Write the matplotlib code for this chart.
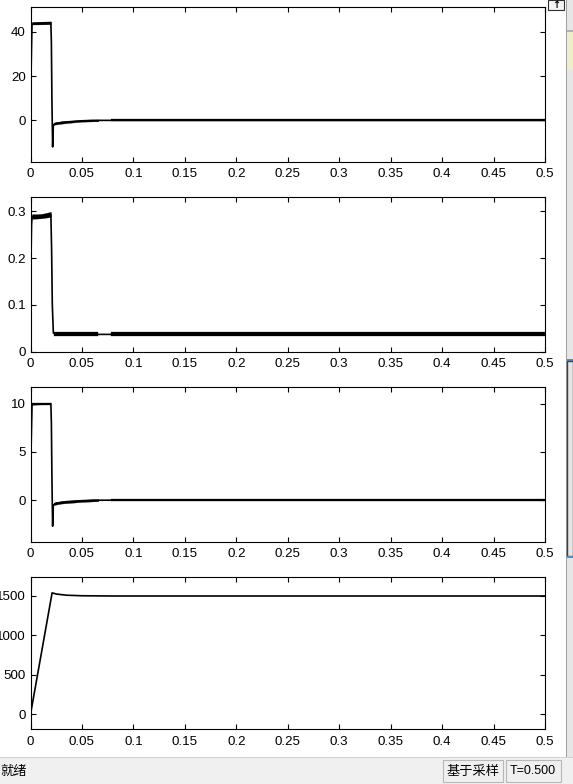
import matplotlib
matplotlib.use("Agg")
import matplotlib.pyplot as plt
from matplotlib.patches import Rectangle

plt.rcParams['font.family'] = ['Liberation Sans', 'Noto Sans CJK SC', 'DejaVu Sans']

# ---------------- data ----------------
# Panel 1
p1_t = [0, 0.0005, 0.001, 0.0015, 0.0198, 0.0203, 0.0208, 0.0215, 0.0222, 0.025, 0.035, 0.05, 0.06, 0.5]
p1_v = [0, 20, 33, 43.5, 44, 35, 10, -12, -2, -1.3, -0.7, -0.2, 0, 0]
p1_bands = [
    ([0.0015, 0.0198], [43.3, 43.4], [44.5, 44.7]),
    ([0.0225, 0.03, 0.04, 0.05, 0.066], [-2.0, -1.5, -1.0, -0.6, -0.4], [-1.0, -0.4, -0.1, 0.2, 0.4]),
    ([0.078, 0.5], [-0.4, -0.4], [0.4, 0.4]),
]
# Panel 2
p2_t = [0, 0.0005, 0.001, 0.0015, 0.0198, 0.0205, 0.0212, 0.0222, 0.025, 0.5]
p2_v = [0.035, 0.2, 0.27, 0.289, 0.293, 0.22, 0.1, 0.04, 0.037, 0.037]
p2_bands = [
    ([0.0015, 0.01, 0.0198], [0.284, 0.285, 0.288], [0.294, 0.294, 0.299]),
    ([0.0225, 0.066], [0.0335, 0.0335], [0.0415, 0.0415]),
    ([0.078, 0.5], [0.0335, 0.0335], [0.0415, 0.0415]),
]
# Panel 3
p3_t = [0, 0.0005, 0.001, 0.0015, 0.0198, 0.0203, 0.0208, 0.0215, 0.0222, 0.025, 0.035, 0.05, 0.06, 0.5]
p3_v = [0, 5, 7.5, 9.9, 10, 8, 2.5, -2.7, -0.5, -0.3, -0.15, -0.05, 0, 0]
p3_bands = [
    ([0.0015, 0.0198], [9.85, 9.85], [10.1, 10.1]),
    ([0.0225, 0.03, 0.05, 0.066], [-0.5, -0.35, -0.18, -0.1], [-0.25, -0.1, 0.04, 0.1]),
    ([0.078, 0.5], [-0.1, -0.1], [0.1, 0.1]),
]
# Panel 4
p4_t = [0, 0.021, 0.025, 0.035, 0.05, 0.08, 0.5]
p4_v = [0, 1540, 1525, 1510, 1503, 1500, 1500]

x_ticks = [0, 0.05, 0.1, 0.15, 0.2, 0.25, 0.3, 0.35, 0.4, 0.45, 0.5]
x_labels = ['0', '0.05', '0.1', '0.15', '0.2', '0.25', '0.3', '0.35', '0.4', '0.45', '0.5']

panels = [
    (p1_t, p1_v, p1_bands, (-18.8, 51.2), [0, 20, 40], ['0', '20', '40']),
    (p2_t, p2_v, p2_bands, (0, 0.33), [0, 0.1, 0.2, 0.3], ['0', '0.1', '0.2', '0.3']),
    (p3_t, p3_v, p3_bands, (-4.3, 11.7), [0, 5, 10], ['0', '5', '10']),
    (p4_t, p4_v, [], (-190, 1737), [0, 500, 1000, 1500], ['0', '500', '1000', '1500']),
]

W, H = 573, 784
fig = plt.figure(figsize=(W / 100, H / 100), dpi=100)
fig.patch.set_facecolor('white')

# axes boxes in pixels: (left, top, right, bottom)
boxes = [(30.5, 7, 545, 162), (30.5, 197.3, 545, 351.7), (30.5, 387.3, 545, 541.7), (30.5, 577.3, 545, 729.3)]

for (t, v, bands, ylim, yt, yl), (l, tp, r, b) in zip(panels, boxes):
    ax = fig.add_axes([l / W, 1 - b / H, (r - l) / W, (b - tp) / H])
    for bt, lo, hi in bands:
        ax.fill_between(bt, lo, hi, color='black', linewidth=0.2)
    ax.plot(t, v, color='black', linewidth=1.2)
    ax.set_xlim(0, 0.5)
    ax.set_ylim(*ylim)
    ax.set_xticks(x_ticks)
    ax.set_xticklabels(x_labels)
    ax.set_yticks(yt)
    ax.set_yticklabels(yl)
    ax.tick_params(direction='in', length=3.5, width=0.8, top=True, right=True,
                   labelsize=9.6, pad=3.5, colors='black')
    ax.tick_params(axis='x', pad=4.5)
    for s in ax.spines.values():
        s.set_linewidth(0.8)

# ---------------- window chrome ----------------
def rect(x0, y0, x1, y1, fc, ec='none', lw=0.0, z=5):
    fig.patches.append(Rectangle((x0 / W, 1 - y1 / H), (x1 - x0) / W, (y1 - y0) / H,
                                 transform=fig.transFigure, facecolor=fc, edgecolor=ec,
                                 linewidth=lw, zorder=z))

# status bar
rect(0, 757, W, H, '#f0f0f0')
rect(0, 756.5, W, 757.5, '#d0d0d0')
fig.text(0 / W, 1 - 771 / H, '就绪', fontsize=9.5, va='center', ha='left', zorder=10,
         family=['Noto Sans CJK SC', 'DejaVu Sans'])
rect(443, 760, 503, 782, 'none', '#b8b8b8', 0.8)
fig.text(473 / W, 1 - 771 / H, '基于采样', fontsize=9.5, va='center', ha='center', zorder=10,
         family=['Noto Sans CJK SC', 'DejaVu Sans'])
rect(506, 760, 561, 782, 'none', '#b8b8b8', 0.8)
fig.text(533 / W, 1 - 771 / H, 'T=0.500', fontsize=9, va='center', ha='center', zorder=10,
         family=['Liberation Sans', 'DejaVu Sans'])

# right strip
rect(566, 0, W, 757, '#e6e6e6')
rect(565.5, 0, 566.5, 757, '#a0a0a0')
rect(567, 30, W, 32, '#b0b0b0')
rect(567, 32, W, 69, '#eeeec8')
rect(567, 359, W, 361, '#4a90d9')
rect(567, 361, W, 556, '#e6e6e6', '#404040', 1.0)
rect(567, 556, W, 558, '#4a90d9')
# small button top right
rect(548, 0, 564, 10, '#f4f4f4', '#303030', 0.8)
fig.text(556 / W, 1 - 5 / H, '↑', fontsize=7, ha='center', va='center', fontweight='bold',
         zorder=10, family=['DejaVu Sans'])

fig.savefig('out.png', dpi=100, facecolor='white')
